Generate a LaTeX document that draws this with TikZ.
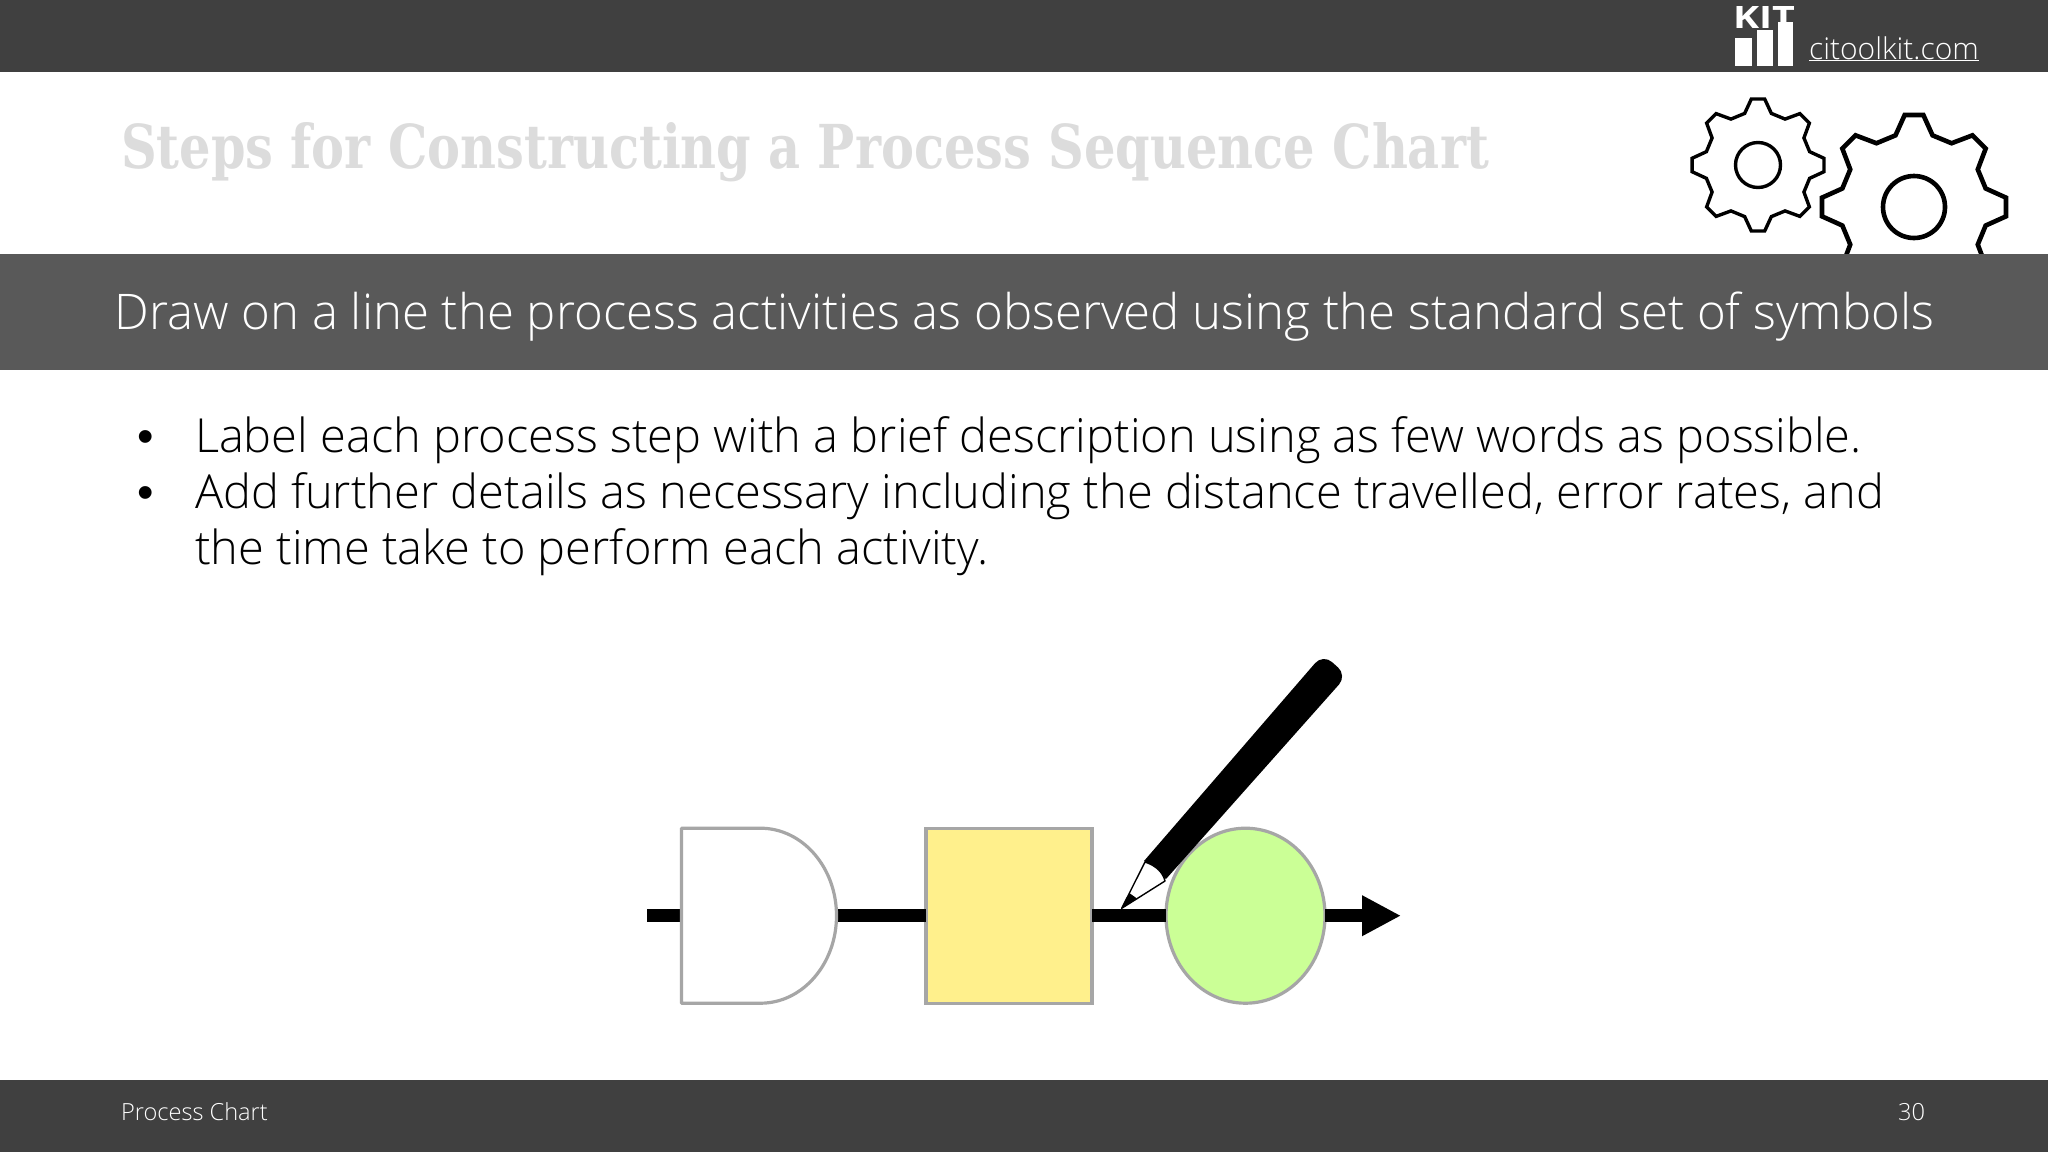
\documentclass[tikz,border=0pt]{standalone}
\usepackage{fontspec}
\usetikzlibrary{arrows.meta,shapes.geometric}
\setmainfont{Open Sans Light}
\newfontfamily\boldos{Open Sans}[BoldFont=* Bold]
\newfontfamily\titlefont{DejaVu Serif}
\newfontfamily\bulletfont{Liberation Sans}
\definecolor{bardark}{HTML}{404040}
\definecolor{bandgrey}{HTML}{595959}
\definecolor{titlegrey}{HTML}{DCDCDC}
\definecolor{edgegrey}{HTML}{A6A6A6}
\definecolor{boxyellow}{HTML}{FFF08C}
\definecolor{boxgreen}{HTML}{CBFF96}
\tikzset{
  x=1pt,y=-1pt,
  txt/.style={inner sep=0pt,outer sep=0pt,anchor=base west},
  bartext/.style={txt,text=white,font=\fontsize{23.6}{24}\selectfont},
  bodytext/.style={txt,text=black,font=\fontsize{46.95}{56}\selectfont},
  symbol/.style={draw=edgegrey,line width=3.2pt,inner sep=0pt,outer sep=0pt},
  flow/.style={line width=13pt,black},
  gearline/.style={draw=black,fill=white,miter limit=10},
}
\newcommand{\gearpath}[2]{% tip radius, root radius
  (75.5:#2)
  \foreach \t in {0,45,...,315}{
    -- (\t+75.5:#2) -- (\t+84.2:#1) -- (\t+95.8:#1) -- (\t+104.5:#2)
  } -- cycle
}
\begin{document}
\begin{tikzpicture}
\useasboundingbox (0,0) rectangle (2048,1152);
\fill[white] (0,0) rectangle (2048,1152);
% bars
\fill[bardark] (0,0) rectangle (2048,71.5);
\fill[bardark] (0,1080) rectangle (2048,1152);
% gears
\begin{scope}[shift={(1758,165)}]
  \draw[gearline,line width=3.4pt] \gearpath{66.3}{53.3};
  \draw[line width=3.4pt] (0,0) circle[radius=22.5];
\end{scope}
\begin{scope}[shift={(1914,207)}]
  \draw[gearline,line width=4.6pt] \gearpath{92.5}{74};
  \draw[line width=4.6pt] (0,0) circle[radius=31];
\end{scope}
\fill[bandgrey] (0,253.5) rectangle (2048,370);
% logo
\fill[white] (1735,38) rectangle (1752,66);
\fill[white] (1757,30) rectangle (1773,66);
\fill[white] (1778,22) rectangle (1793,66);
\node[txt,text=white] (kit) at (1733,28) {\resizebox{62pt}{22pt}{\boldos\bfseries KIT}};
\node[bartext,font=\fontsize{30}{30}\selectfont] (site) at (1809,59) {\underline{citoolkit.com}};
% title
\node[txt,text=titlegrey] (title) at (121,168) {\resizebox{1368pt}{46pt}{\titlefont\bfseries\fontsize{60}{60}\selectfont Steps for Constructing a Process Sequence Chart}};
% band
\node[txt,text=white,font=\fontsize{49.12}{50}\selectfont] (band) at (114.5,329) {Draw on a line the process activities as observed using the standard set of symbols};
% body
\node[bodytext] (b1) at (137,452) {\bulletfont •};
\node[bodytext] (l1) at (195,452) {Label each process step with a brief description using as few words as possible.};
\node[bodytext] (b2) at (137,508) {\bulletfont •};
\node[bodytext] (l2) at (195,508) {Add further details as necessary including the distance travelled, error rates, and};
\node[bodytext] (l3) at (195,564) {the time take to perform each activity.};
% footer
\node[bartext] (foot) at (121,1120) {Process Chart};
\node[bartext,anchor=base east] (page) at (1925,1120) {30};
% symbols
\coordinate (start) at (647,915.7);
\coordinate (finish) at (1401,915.7);
\node[inner sep=0pt,outer sep=0pt,minimum width=155pt,minimum height=175pt] (dshape) at (759,915.7) {};
\node[symbol,fill=boxyellow,minimum width=166pt,minimum height=175pt] (box) at (1009,915.7) {};
\node[symbol,fill=boxgreen,ellipse,minimum width=159pt,minimum height=175pt] (oval) at (1245.5,915.7) {};
\draw[flow] (start) -- (dshape.west);
\draw[flow] (dshape.east) -- (box.west);
\draw[flow] (box.east) -- (oval.west);
\draw[flow,-{Triangle[length=39pt,width=38pt]}] (oval.east) -- (finish);
\draw[symbol,fill=white,line join=round] (dshape.north west) -- (760.5,828.2) arc[start angle=-90,end angle=90,x radius=76,y radius=87.5] -- (dshape.south west) -- cycle;
% pencil
\fill[black] (1144,861) [rounded corners=12pt] -- (1323,654) -- (1347,675.5) [sharp corners] -- (1166,879) -- cycle;
\draw[line width=1.4pt,fill=white,line join=round] (1145,862) .. controls (1157,866) and (1163,873) .. (1165,881) -- (1121.7,908.3) -- cycle;
\fill[black] (1121.7,908.3) -- (1129.3,893) -- (1136.7,898.3) -- cycle;
\end{tikzpicture}
\end{document}
